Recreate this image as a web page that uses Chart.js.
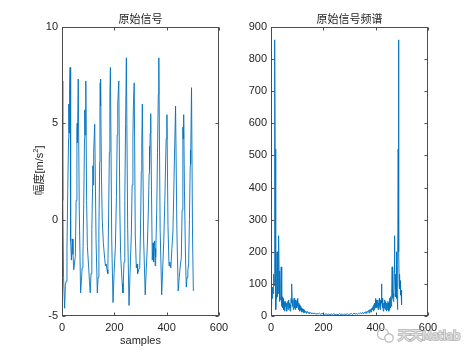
<!DOCTYPE html>
<html><head><meta charset="utf-8">
<script src="https://cdn.jsdelivr.net/npm/chart.js"></script>
<style>
html,body{margin:0;padding:0;background:#fff;width:474px;height:355px;overflow:hidden;}
#c1{position:absolute;left:0;top:0;}
#c2{position:absolute;left:237px;top:0;}
</style></head><body>
<canvas id="c1" width="237" height="355"></canvas>
<canvas id="c2" width="237" height="355"></canvas>
<script>
// ---- data ----
const sigSamples=[0,3,6,10,13,16,19,22,25,26,27,29,31,33,36,39,42,45,48,51,54,57,58,59,62,66,71,74,77,80,83,86,87,88,91,94,97,102,105,108,111,114,117,118,119,121,125,130,135,138,141,144,145,146,147,148,151,154,158,163,166,169,172,175,178,181,183,185,190,195,199,204,208,211,212,213,214,217,221,224,227,230,233,237,240,243,246,251,256,260,265,268,271,273,276,280,284,287,289,293,297,300,303,305,307,312,318,322,326,330,333,334,335,337,339,342,345,348,350,352,354,356,357,359,362,365,368,370,375,381,385,389,393,396,398,401,405,409,412,416,420,424,428,431,434,439,444,448,452,456,459,462,463,465,468,472,475,478,481,484,487,490,491,492,495,499,502];
const sigValues=[7.2,1.0,-3.0,-4.6,-3.4,-3.2,-1.5,1.5,4.2,6.0,4.5,6.8,7.9,-1.1,-2.1,-1.0,-1.8,-2.6,-2.2,-1.9,1.0,4.3,5.0,4.0,7.3,0.5,-3.8,-3.2,-2.5,-1.95,0.8,4.2,5.7,4.4,7.2,1.0,-1.4,-2.5,-3.2,-3.8,-2.8,-0.5,1.8,2.8,1.8,3.5,4.95,-1.0,-3.8,-3.0,-0.6,3.0,5.8,7.1,5.9,7.3,2.0,-0.05,-1.2,-2.0,-2.4,-2.3,-2.6,-2.8,0.0,3.5,6.5,7.9,-1.0,-4.3,-2.8,-1.4,1.2,4.4,5.9,4.6,6.0,7.2,0.5,-1.8,-2.6,-3.3,-3.8,-2.2,1.0,5.0,8.4,-0.5,-4.45,-2.8,-0.75,1.8,4.3,6.0,7.1,-0.8,-2.5,-2.3,-2.8,-2.6,-2.5,-0.5,2.5,4.0,6.0,-1.0,-3.9,-2.6,-1.4,0.5,2.4,3.8,2.6,4.5,5.5,1.5,-2.1,-1.2,-2.2,-1.3,-1.1,-2.4,-1.5,-1.95,0.5,3.5,6.5,8.4,-0.5,-3.9,-2.5,-1.1,1.0,3.0,4.2,5.45,-0.3,-2.4,-2.2,-2.5,-1.5,-0.6,2.0,4.0,5.9,-0.5,-3.7,-3.0,-2.4,-1.95,0.5,4.8,4.2,5.45,1.5,-2.0,-3.5,-3.0,-2.6,-2.3,0.0,2.8,3.6,2.9,6.85,-1.0,-3.7];

const specBins=[1,2,3,4,5,6,7,8,9,10,11,12,13,14,15,16,17,18,19,20,21,22,23,24,25,26,27,28,29,30,31,32,33,34,35,36,37,38,39,40,41,42,43,44,45,46,47,48,49,50,52,53,55,56,58,59,61,62,64,65,67,68,70,71,73,74,76,77,78,79,80,81,82,84,85,87,88,90,91,93,94,96,97,99,100,101,103,104,106,107,109,110,112,114,116,118,120,122,124,126,128,130,133,136,139,142,145,148,152,156,160,164,168,172,176,180,185,190,195,200,205,210,215,220,225,230,235,240,245,250,
252,257,262,267,272,277,282,287,292,297,302,307,312,317,322,326,330,334,338,342,346,350,354,357,360,363,366,369,372,374,376,378,380,382,384,386,388,390,392,393,395,396,398,399,401,402,403,405,406,408,409,411,412,414,415,417,418,420,421,422,423,424,425,426,428,429,431,432,434,435,437,438,440,441,443,444,446,447,449,450,452,453,454,455,456,457,458,459,460,461,462,463,464,465,466,467,468,469,470,471,472,473,474,475,476,477,478,479,480,481,482,483,484,485,486,487,488,489,490,491,492,493,494,495,496,497,498,499,500];
const specMag=[32,45,75,55,80,65,90,70,110,85,130,95,200,480,860,520,160,40,20,65,55,120,200,110,60,130,70,90,160,250,140,60,45,70,50,90,55,100,153,70,30,55,40,60,25,50,35,55,20,45,15,40,30,45,20,40,15,35,45,20,30,50,25,40,15,35,25,55,40,75,100,45,30,50,20,35,55,25,40,20,50,30,45,25,50,30,55,25,40,20,35,15,30,20,25,12,22,15,20,10,18,12,15,8,14,9,12,7,11,6,10,7,9,5,8,6,9,5,8,6,4,7,5,6,4,6,5,7,4,5,
5,4,7,5,6,4,6,5,7,4,6,8,5,9,6,8,5,9,7,10,6,11,7,12,9,14,8,15,12,18,10,20,15,22,12,25,20,30,15,35,20,40,25,55,30,50,25,45,30,50,20,40,25,55,35,20,50,30,45,100,75,40,55,25,35,15,40,25,50,30,20,45,35,15,40,20,45,30,40,15,45,20,55,35,50,25,60,40,55,30,70,153,100,55,90,50,70,45,60,140,250,160,90,70,130,60,110,200,120,55,65,20,40,160,520,860,480,200,95,130,85,110,70,90,65,80,55,75,35];

const sigXTicks=[0,200,400,600];
const sigYTicks=[-5,0,5,10];
const specXTicks=[0,200,400,600];
const specYTicks=[0,100,200,300,400,500,600,700,800,900];
const titles=['原始信号','原始信号频谱'];
const xLabel='samples';
const yLabelParts=['幅度','[m/s','2',']'];
const watermark='天天Matlab';

// ---- drawing ----
const TICK_FONT='"Liberation Sans", Arial, sans-serif';
const CJK_FONT='"Noto Sans CJK SC", sans-serif';
const TXT='#262626';

const axesPlugin={
  id:'matlabAxes',
  afterDraw(chart,args,opts){
    const {ctx,chartArea:a}=chart;
    const x=chart.scales.x, y=chart.scales.y;
    ctx.save();
    ctx.strokeStyle='#4d4d4d'; ctx.lineWidth=1;
    const L=Math.round(a.left)+0.5, R=Math.round(a.right)-0.5, T=Math.round(a.top)+0.5, B=Math.round(a.bottom)-0.5;
    ctx.strokeRect(L,T,R-L,B-T);
    const tl=3;
    ctx.beginPath();
    opts.xTicks.forEach(v=>{const px=Math.round(x.getPixelForValue(v))+0.5;ctx.moveTo(px,B);ctx.lineTo(px,B-tl);ctx.moveTo(px,T);ctx.lineTo(px,T+tl);});
    opts.yTicks.forEach(v=>{const py=Math.round(y.getPixelForValue(v))+0.5;ctx.moveTo(L,py);ctx.lineTo(L+tl,py);ctx.moveTo(R,py);ctx.lineTo(R-tl,py);});
    ctx.stroke();
    ctx.fillStyle=TXT;
    ctx.font='11px '+CJK_FONT; ctx.textAlign='center'; ctx.textBaseline='middle';
    ctx.fillText(opts.title,(a.left+a.right)/2,19);
    if(opts.xLabel){
      ctx.font='11px '+TICK_FONT;
      ctx.fillText(opts.xLabel,(a.left+a.right)/2,341);
    }
    if(opts.yLabel){
      const p=opts.yLabel;
      const f1='11px '+CJK_FONT, f2='11px '+TICK_FONT, f3='7.5px '+TICK_FONT;
      ctx.font=f1; const w1=ctx.measureText(p[0]).width;
      ctx.font=f2; const w2=ctx.measureText(p[1]).width; const w4=ctx.measureText(p[3]).width;
      ctx.font=f3; const w3=ctx.measureText(p[2]).width;
      const tot=w1+w2+w3+w4;
      ctx.save();
      ctx.translate(39,(a.top+a.bottom)/2-1);
      ctx.rotate(-Math.PI/2);
      ctx.textAlign='left'; ctx.textBaseline='alphabetic';
      let cx=-tot/2;
      ctx.font=f1; ctx.fillText(p[0],cx,4); cx+=w1;
      ctx.font=f2; ctx.fillText(p[1],cx,4); cx+=w2;
      ctx.font=f3; ctx.fillText(p[2],cx,-1); cx+=w3;
      ctx.font=f2; ctx.fillText(p[3],cx,4);
      ctx.restore();
    }
    if(opts.watermark){
      ctx.strokeStyle='#b8b8b8'; ctx.lineWidth=1.2;
      ctx.beginPath(); ctx.arc(146,334,5.5,0,Math.PI*2); ctx.stroke();
      ctx.fillStyle='#fff';
      ctx.beginPath(); ctx.arc(152,338,4.2,0,Math.PI*2); ctx.fill(); ctx.stroke();
      ctx.font='12px '+CJK_FONT; ctx.textAlign='left'; ctx.textBaseline='middle';
      ctx.lineWidth=2; ctx.strokeStyle='rgba(110,110,110,0.45)';
      ctx.strokeText(opts.watermark,161,335);
      ctx.fillStyle='#e2e2e2';
      ctx.fillText(opts.watermark,161,335);
    }
    ctx.restore();
  }
};

function makeChart(id,xs,ys,xT,yT,geom,pluginOpts){
  const pts=xs.map((v,i)=>({x:v,y:ys[i]}));
  return new Chart(document.getElementById(id),{
    type:'line',
    data:{datasets:[{data:pts,borderColor:'#0072BD',borderWidth:0.9,pointRadius:0,fill:false,tension:0}]},
    options:{
      responsive:false,animation:false,devicePixelRatio:1,
      layout:{padding:{left:0,top:geom.top,right:geom.right,bottom:0}},
      plugins:{legend:{display:false},tooltip:{enabled:false},matlabAxes:pluginOpts},
      scales:{
        x:{type:'linear',min:xT[0],max:xT[xT.length-1],
           afterBuildTicks:s=>{s.ticks=xT.map(v=>({value:v}));},
           ticks:{color:TXT,font:{family:TICK_FONT,size:11},padding:5,maxRotation:0,autoSkip:false},
           grid:{display:false,drawTicks:false},border:{display:false},
           afterFit:s=>{s.height=geom.xh;}},
        y:{type:'linear',min:yT[0],max:yT[yT.length-1],
           afterBuildTicks:s=>{s.ticks=yT.map(v=>({value:v}));},
           ticks:{color:TXT,font:{family:TICK_FONT,size:11},padding:4,autoSkip:false},
           grid:{display:false,drawTicks:false},border:{display:false},
           afterFit:s=>{s.width=geom.yw;}}
      }
    },
    plugins:[axesPlugin]
  });
}

makeChart('c1',sigSamples,sigValues,sigXTicks,sigYTicks,{top:27,right:18,xh:39,yw:62},
  {xTicks:sigXTicks,yTicks:sigYTicks,title:titles[0],xLabel:xLabel,yLabel:yLabelParts});
makeChart('c2',specBins,specMag,specXTicks,specYTicks,{top:27,right:46,xh:39,yw:34},
  {xTicks:specXTicks,yTicks:specYTicks,title:titles[1],watermark:watermark});
</script>
</body></html>
